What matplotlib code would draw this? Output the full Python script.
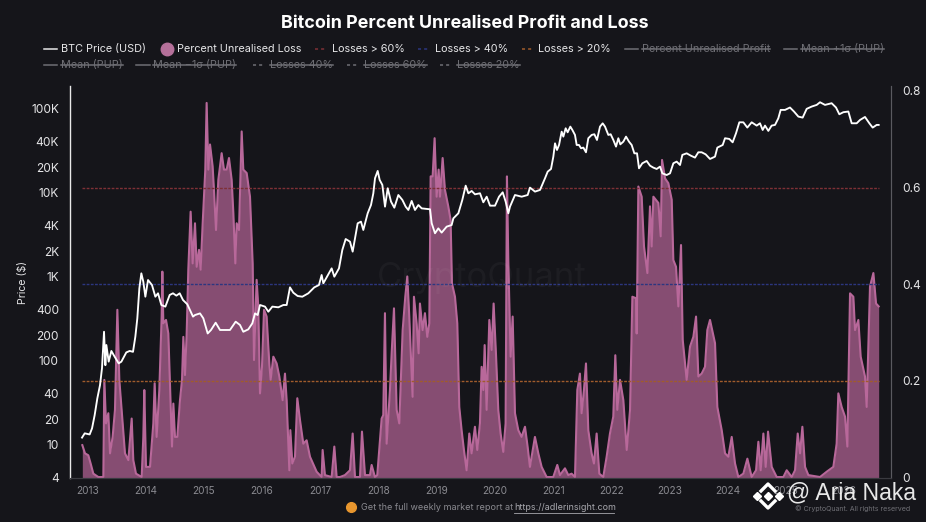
import matplotlib
matplotlib.use("Agg")
import matplotlib.pyplot as plt
from matplotlib.lines import Line2D
from matplotlib.ticker import FixedLocator, FixedFormatter, NullLocator

# price, one pair of lists per stretch of the chart
years_a = [2012.906,2012.952,2013.037,2013.078,2013.123,2013.169,2013.215,2013.249,2013.284,2013.307,2013.324,2013.364,2013.410,2013.467,2013.536,2013.582,2013.667,2013.725,2013.782,2013.822,2013.856,2013.891,2013.925,2013.959,2013.994,2014.040,2014.108,2014.166,2014.212,2014.269,2014.338,2014.412,2014.469,2014.527,2014.584,2014.641,2014.715,2014.773,2014.813]
price_a = [12.1,13.6,13.2,15.6,22.4,35.5,51,81,220,88,153,97,130,111,92.5,97,125,130,127,192,318,723,1091,867,575,908,792,575,631,458,438,603,631,592,631,525,467,382,333]
years_b = [2014.847,2014.933,2014.990,2015.065,2015.122,2015.202,2015.277,2015.362,2015.448,2015.546,2015.620,2015.677,2015.763,2015.832,2015.878,2015.924,2015.964,2016.050,2016.107,2016.176,2016.279,2016.365,2016.422,2016.479,2016.536,2016.611,2016.691,2016.794,2016.897,2016.977,2017.023,2017.052,2017.121,2017.195,2017.241,2017.321,2017.378,2017.436,2017.510,2017.556,2017.642,2017.699,2017.739,2017.814,2017.871,2017.911]
price_b = [348,364,318,210,231,282,231,231,231,290,265,220,235,277,364,348,458,438,381,438,430,458,458,743,642,586,575,631,743,792,1042,830,1014,1250,995,1250,2065,2793,2600,1977,4295,4498,3581,5650,7096,9775]
years_c = [2017.940,2017.986,2018.020,2018.066,2018.112,2018.158,2018.215,2018.272,2018.341,2018.410,2018.467,2018.513,2018.570,2018.627,2018.685,2018.742,2018.885,2018.914,2018.971,2019.028,2019.085,2019.171,2019.257,2019.286,2019.372,2019.440,2019.498,2019.544,2019.601,2019.658,2019.744,2019.801,2019.859,2019.916,2020.002,2020.071,2020.134,2020.185,2020.231,2020.259,2020.345,2020.460,2020.563,2020.603,2020.689,2020.775,2020.861]
price_c = [14760,18050,14100,12300,6780,11220,7780,6590,9330,8150,6780,6190,7930,6190,7090,6470,6310,4300,3270,3740,3330,3920,4100,4920,5650,8150,12050,9780,10420,9510,9780,7640,8910,6970,6970,8910,10050,7780,5650,6780,9330,8910,9330,11430,10240,10720,14760]
years_d = [2020.907,2020.964,2021.004,2021.033,2021.067,2021.102,2021.147,2021.176,2021.216,2021.250,2021.296,2021.331,2021.376,2021.405,2021.445,2021.480,2021.520,2021.565,2021.605,2021.663,2021.709,2021.754,2021.806,2021.852,2021.892,2021.949,2021.989,2022.035,2022.081,2022.121,2022.155,2022.207,2022.253,2022.304,2022.350,2022.396,2022.442,2022.476,2022.533,2022.608,2022.665,2022.722,2022.780,2022.837,2022.877,2022.951,2023.009,2023.066,2023.123,2023.181,2023.221,2023.295,2023.364,2023.438,2023.495,2023.553,2023.621]
price_d = [17700,19050,26700,38450,32060,36750,52950,46200,58050,52000,60800,55470,48400,36750,36750,33570,34200,30080,44200,48400,49300,42170,60800,66500,60800,48400,49300,42170,35150,44200,37400,40270,46200,40270,36750,29240,29240,19400,22250,23700,20850,19760,19050,20320,16900,16140,16900,22250,23300,21230,28000,29240,27480,26000,30080,30080,28440]
years_e = [2023.696,2023.782,2023.822,2023.914,2023.954,2024.028,2024.085,2024.143,2024.200,2024.269,2024.337,2024.412,2024.498,2024.555,2024.601,2024.641,2024.698,2024.755,2024.813,2024.870,2024.910,2024.985,2025.070,2025.139,2025.214,2025.288,2025.357,2025.443,2025.529,2025.586,2025.672,2025.786,2025.861,2025.918,2025.987,2026.073,2026.130,2026.216,2026.273,2026.359,2026.434,2026.491,2026.560,2026.594]
price_e = [25060,26700,34200,36750,44200,43350,39550,50700,68400,68400,59200,68400,62500,66600,55470,62500,54050,62500,63680,76400,96100,96100,102600,91900,80000,77800,98900,105300,110200,118500,110200,115400,102600,85300,90200,91900,66600,66600,72900,79200,66600,59200,63680,63680]

loss_years = [2012.911,2012.957,2013.014,2013.054,2013.100,2013.186,2013.272,2013.289,2013.318,2013.358,2013.387,2013.432,2013.472,2013.513,2013.547,2013.587,2013.644,2013.702,2013.759,2013.787,2013.833,2013.931,2013.959,2013.976,2014.005,2014.074,2014.131,2014.154,2014.188,2014.234,2014.274,2014.286,2014.303,2014.349,2014.389,2014.417,2014.452,2014.475,2014.503,2014.543,2014.589,2014.624,2014.647,2014.675,2014.704,2014.732,2014.772,2014.807,2014.847,2014.876,2014.916,2014.944,2014.979,2015.024,2015.047,2015.076,2015.105,2015.150,2015.173,2015.208,2015.248,2015.305,2015.345,2015.391,2015.431,2015.477,2015.506,2015.540,2015.563,2015.603,2015.649,2015.677,2015.735,2015.792,2015.838,2015.861,2015.906,2015.935,2015.964,2015.998,2016.033,2016.078,2016.124,2016.147,2016.193,2016.250,2016.296,2016.353,2016.393,2016.422,2016.468,2016.485,2016.519,2016.565,2016.605,2016.651,2016.708,2016.765,2016.823,2016.937,2017.023,2017.040,2017.080,2017.195,2017.241,2017.281,2017.338,2017.424,2017.510,2017.556,2017.596,2017.682,2017.716,2017.768,2017.853,2017.882,2017.939,2017.979,2018.014,2018.054,2018.082,2018.111,2018.140,2018.197,2018.226,2018.266,2018.312,2018.357,2018.415,2018.460,2018.495,2018.529,2018.564,2018.586,2018.609,2018.655,2018.690,2018.712,2018.758,2018.798,2018.838,2018.873,2018.896,2018.930,2018.964,2018.999,2019.033,2019.056,2019.102,2019.142,2019.199,2019.239,2019.262,2019.314,2019.354,2019.388,2019.428,2019.468,2019.514,2019.560,2019.600,2019.657,2019.697,2019.743,2019.772,2019.801,2019.824,2019.858,2019.904,2019.944,2019.978,2020.018,2020.058,2020.098,2020.144,2020.184,2020.207,2020.230,2020.270,2020.305,2020.345,2020.402,2020.459,2020.517,2020.562,2020.602,2020.688,2020.746,2020.803,2020.889,2021.003,2021.072,2021.118,2021.204,2021.261,2021.318,2021.376,2021.416,2021.461,2021.490,2021.530,2021.565,2021.605,2021.662,2021.702,2021.748,2021.794,2021.862,2021.920,2021.977,2022.034,2022.069,2022.103,2022.150,2022.207,2022.265,2022.322,2022.362,2022.425,2022.436,2022.465,2022.522,2022.562,2022.620,2022.665,2022.694,2022.723,2022.809,2022.849,2022.872,2022.923,2022.980,2023.038,2023.066,2023.112,2023.152,2023.198,2023.227,2023.295,2023.353,2023.410,2023.456,2023.496,2023.553,2023.610,2023.650,2023.696,2023.782,2023.822,2023.897,2023.954,2024.011,2024.069,2024.126,2024.183,2024.269,2024.338,2024.412,2024.487,2024.527,2024.567,2024.613,2024.653,2024.693,2024.756,2024.842,2024.956,2025.014,2025.100,2025.157,2025.203,2025.243,2025.283,2025.329,2025.386,2025.586,2025.701,2025.815,2025.872,2025.901,2025.958,2026.016,2026.056,2026.102,2026.159,2026.188,2026.245,2026.285,2026.359,2026.388,2026.445,2026.503,2026.549,2026.594]
loss_values = [.067,.050,.046,.029,.008,.001,.001,.202,.112,.133,.050,.084,.140,.347,.202,.140,.050,.036,.122,.036,.008,.001,.084,.181,.022,.022,.112,.195,.084,.181,.333,.426,.319,.326,.298,.195,.064,.153,.084,.084,.160,.202,.291,.212,.298,.430,.550,.443,.526,.436,.471,.430,.526,.637,.775,.637,.689,.644,.595,.512,.616,.671,.637,.637,.661,.616,.547,.443,.526,.512,.716,.637,.630,.581,.443,.243,.409,.352,.174,.229,.347,.333,.235,.202,.250,.236,.209,.160,.215,.160,.015,.098,.029,.043,.164,.119,.070,.077,.043,.012,.001,.057,.005,.001,.064,.001,.001,.005,.015,.091,.001,.001,.095,.005,.005,.026,.001,.005,.060,.122,.129,.340,.070,.181,.257,.350,.140,.112,.305,.374,.416,.333,.229,.167,.374,.319,.257,.360,.305,.340,.291,.319,.623,.623,.702,.581,.637,.581,.661,.595,.561,.533,.402,.374,.319,.146,.098,.057,.015,.091,.050,.105,.057,.112,.229,.181,.274,.140,.326,.264,.360,.257,.140,.091,.053,.112,.623,.450,.250,.333,.133,.098,.084,.105,.064,.022,.084,.050,.022,.001,.001,.026,.005,.019,.005,.008,.001,.181,.215,.133,.181,.236,.098,.050,.029,.091,.008,.001,.043,.091,.126,.253,.140,.202,.160,.057,.140,.374,.371,.298,.602,.581,.478,.423,.561,.478,.581,.568,.499,.657,.619,.609,.575,.450,.436,.354,.481,.285,.202,.271,.291,.333,.209,.215,.229,.305,.326,.278,.146,.098,.050,.043,.084,.029,.001,.008,.039,.001,.015,.074,.015,.091,.022,.095,.022,.001,.001,.015,.001,.015,.091,.050,.105,.022,.005,.001,.012,.022,.070,.174,.146,.126,.064,.381,.374,.305,.326,.250,.209,.146,.395,.423,.360,.354]

year_labels = ["2013","2014","2015","2016","2017","2018","2019","2020","2021","2022","2023","2024","2025","2026"]
price_ticks = [4,10,20,40,100,200,400,1000,2000,4000,10000,20000,40000,100000]
price_tick_labels = ["4","10","20","40","100","200","400","1K","2K","4K","10K","20K","40K","100K"]
loss_ticks = [0,0.2,0.4,0.6,0.8]
loss_tick_labels = ["0","0.2","0.4","0.6","0.8"]
loss_levels = [0.6,0.4,0.2]

price_years = years_a + years_b + years_c + years_d + years_e
price_usd = price_a + price_b + price_c + price_d + price_e

BG = "#15151a"
W, H = 926, 522
plt.rcParams["font.family"] = ["Inter", "DejaVu Sans"]

fig = plt.figure(figsize=(W/100, H/100), dpi=100, facecolor=BG)

def fx(px):
	return px/W

def fy(py):
	return 1-py/H

ax = fig.add_axes([fx(70), fy(478), fx(891)-fx(70), (478-86)/H], facecolor=BG)
ax2 = ax.twinx()

# pixel calibration: 58.2 px per year, 2013 tick at 87.5
ax.set_xlim(2013+(70-87.5)/58.2, 2013+(891-87.5)/58.2)
ax.set_yscale("log")
ax.set_ylim(4, 185000)
ax2.set_ylim(-0.001, 0.81)

ax2.fill_between(loss_years, 0, loss_values, color="#864d72", lw=0, zorder=1)
ax2.plot(loss_years, loss_values, color="#b8689a", lw=1.5, zorder=2)
for lvl, col in zip(loss_levels, ["#7e3036", "#2c3680", "#a05c2c"]):
	ax2.plot([loss_years[0], loss_years[-1]], [lvl, lvl], color=col, lw=1, ls=(0, (2, 1)), zorder=3)

ax.set_zorder(ax2.get_zorder()+1)
ax.patch.set_visible(False)
ax.plot(price_years, price_usd, color="white", lw=1.35, zorder=5)

ax.xaxis.set_major_locator(FixedLocator(list(range(2013, 2027))))
ax.xaxis.set_major_formatter(FixedFormatter(year_labels))
ax.yaxis.set_major_locator(FixedLocator(price_ticks))
ax.yaxis.set_major_formatter(FixedFormatter(price_tick_labels))
ax.yaxis.set_minor_locator(NullLocator())
ax.tick_params(axis="x", colors="#8a8a90", labelsize=7.3, length=0, pad=6)
ax.tick_params(axis="y", colors="#e4e4e6", labelsize=8.6, length=0, pad=8)
ax2.yaxis.set_major_locator(FixedLocator(loss_ticks))
ax2.yaxis.set_major_formatter(FixedFormatter(loss_tick_labels))
ax2.tick_params(axis="y", colors="#e4e4e6", labelsize=8.6, length=0, pad=8)
ax.set_ylabel("Price ($)", color="#e4e4e6", fontsize=7.6, labelpad=2)

for a in (ax, ax2):
	a.spines["top"].set_visible(False)
	a.spines["bottom"].set_color("#3a3a40")
	a.spines["left"].set_color("#e8e8e8" if a is ax else "none")
	a.spines["right"].set_color("#5a5a60")
	a.spines["left"].set_linewidth(1)

fig.text(fx(465), fy(24), "Bitcoin Percent Unrealised Profit and Loss", color="white",
	fontsize=12.9, fontweight="bold", ha="center", va="center")
fig.text(fx(482), fy(278), "CryptoQuant", color="white", alpha=0.035, fontsize=25, ha="center", va="center", zorder=10)

def key_line(x0, x1, y, col, ls="-"):
	fig.add_artist(Line2D([fx(x0), fx(x1)], [fy(y), fy(y)], color=col, lw=1.1, ls=ls))

def key_text(x, y, txt, col, strike=False):
	t = fig.text(fx(x), fy(y), txt, color=col, fontsize=7.8, ha="left", va="center")
	if strike:
		bb = t.get_window_extent(fig.canvas.get_renderer())
		key_line(x, bb.x1, y, col)

LIVE = "#e6e6e8"
OFF = "#6f6f75"
DASH = (0, (2, 2))
R1 = 49
R2 = 65
key_line(44, 57, R1, LIVE)
key_text(61, R1, "BTC Price (USD)", LIVE)
fig.add_artist(Line2D([fx(167)], [fy(R1)], marker="o", ms=9, color="#b5709a", ls="none"))
key_text(177, R1, "Percent Unrealised Loss", LIVE)
key_line(315, 327, R1, "#7e3036", DASH)
key_text(332, R1, "Losses > 60%", LIVE)
key_line(418, 430, R1, "#2c3680", DASH)
key_text(435, R1, "Losses > 40%", LIVE)
key_line(522, 534, R1, "#a05c2c", DASH)
key_text(538, R1, "Losses > 20%", LIVE)
key_line(625, 638, R1, OFF)
key_text(642, R1, "Percent Unrealised Profit", OFF, True)
key_line(784, 797, R1, OFF)
key_text(801, R1, "Mean +1σ (PUP)", OFF, True)
key_line(44, 57, R2, OFF)
key_text(61, R2, "Mean (PUP)", OFF, True)
key_line(136, 150, R2, OFF)
key_text(153, R2, "Mean −1σ (PUP)", OFF, True)
key_line(253, 265, R2, OFF, DASH)
key_text(270, R2, "Losses 40%", OFF, True)
key_line(347, 359, R2, OFF, DASH)
key_text(364, R2, "Losses 60%", OFF, True)
key_line(440, 452, R2, OFF, DASH)
key_text(457, R2, "Losses 20%", OFF, True)

# footer
fig.add_artist(Line2D([fx(351)], [fy(507)], marker="o", ms=7, color="#e8962e", ls="none"))
fig.text(fx(361), fy(507), "Get the full weekly market report at", color="#8a8a90", fontsize=6.5, ha="left", va="center")
fig.text(fx(514), fy(507), "https://adlerinsight.com", color="#a8a8ae", fontsize=6.45, ha="left", va="center")
fig.add_artist(Line2D([fx(514), fx(614)], [fy(512.5), fy(512.5)], color="#a8a8ae", lw=0.6))
fig.text(fx(795), fy(509), "© CryptoQuant. All rights reserved", color="#6f6f75", fontsize=5.1, ha="left", va="center")

# overlay watermark
fig.text(fx(787), fy(493), "@ Aria Naka", color="white", fontsize=16.6, ha="left", va="center", family="Liberation Sans", alpha=0.9)
fig.add_artist(Line2D([fx(761), fx(768), fx(775)], [fy(491), fy(484), fy(491)], color="white", lw=2.4))
fig.add_artist(Line2D([fx(761), fx(768), fx(775)], [fy(501), fy(508), fy(501)], color="white", lw=2.4))
for cx, cy in [(768, 496), (757, 496), (779, 496)]:
	fig.add_artist(Line2D([fx(cx)], [fy(cy)], marker="D", ms=4, color="white", ls="none"))

fig.savefig("out.png", dpi=100, facecolor=BG)
